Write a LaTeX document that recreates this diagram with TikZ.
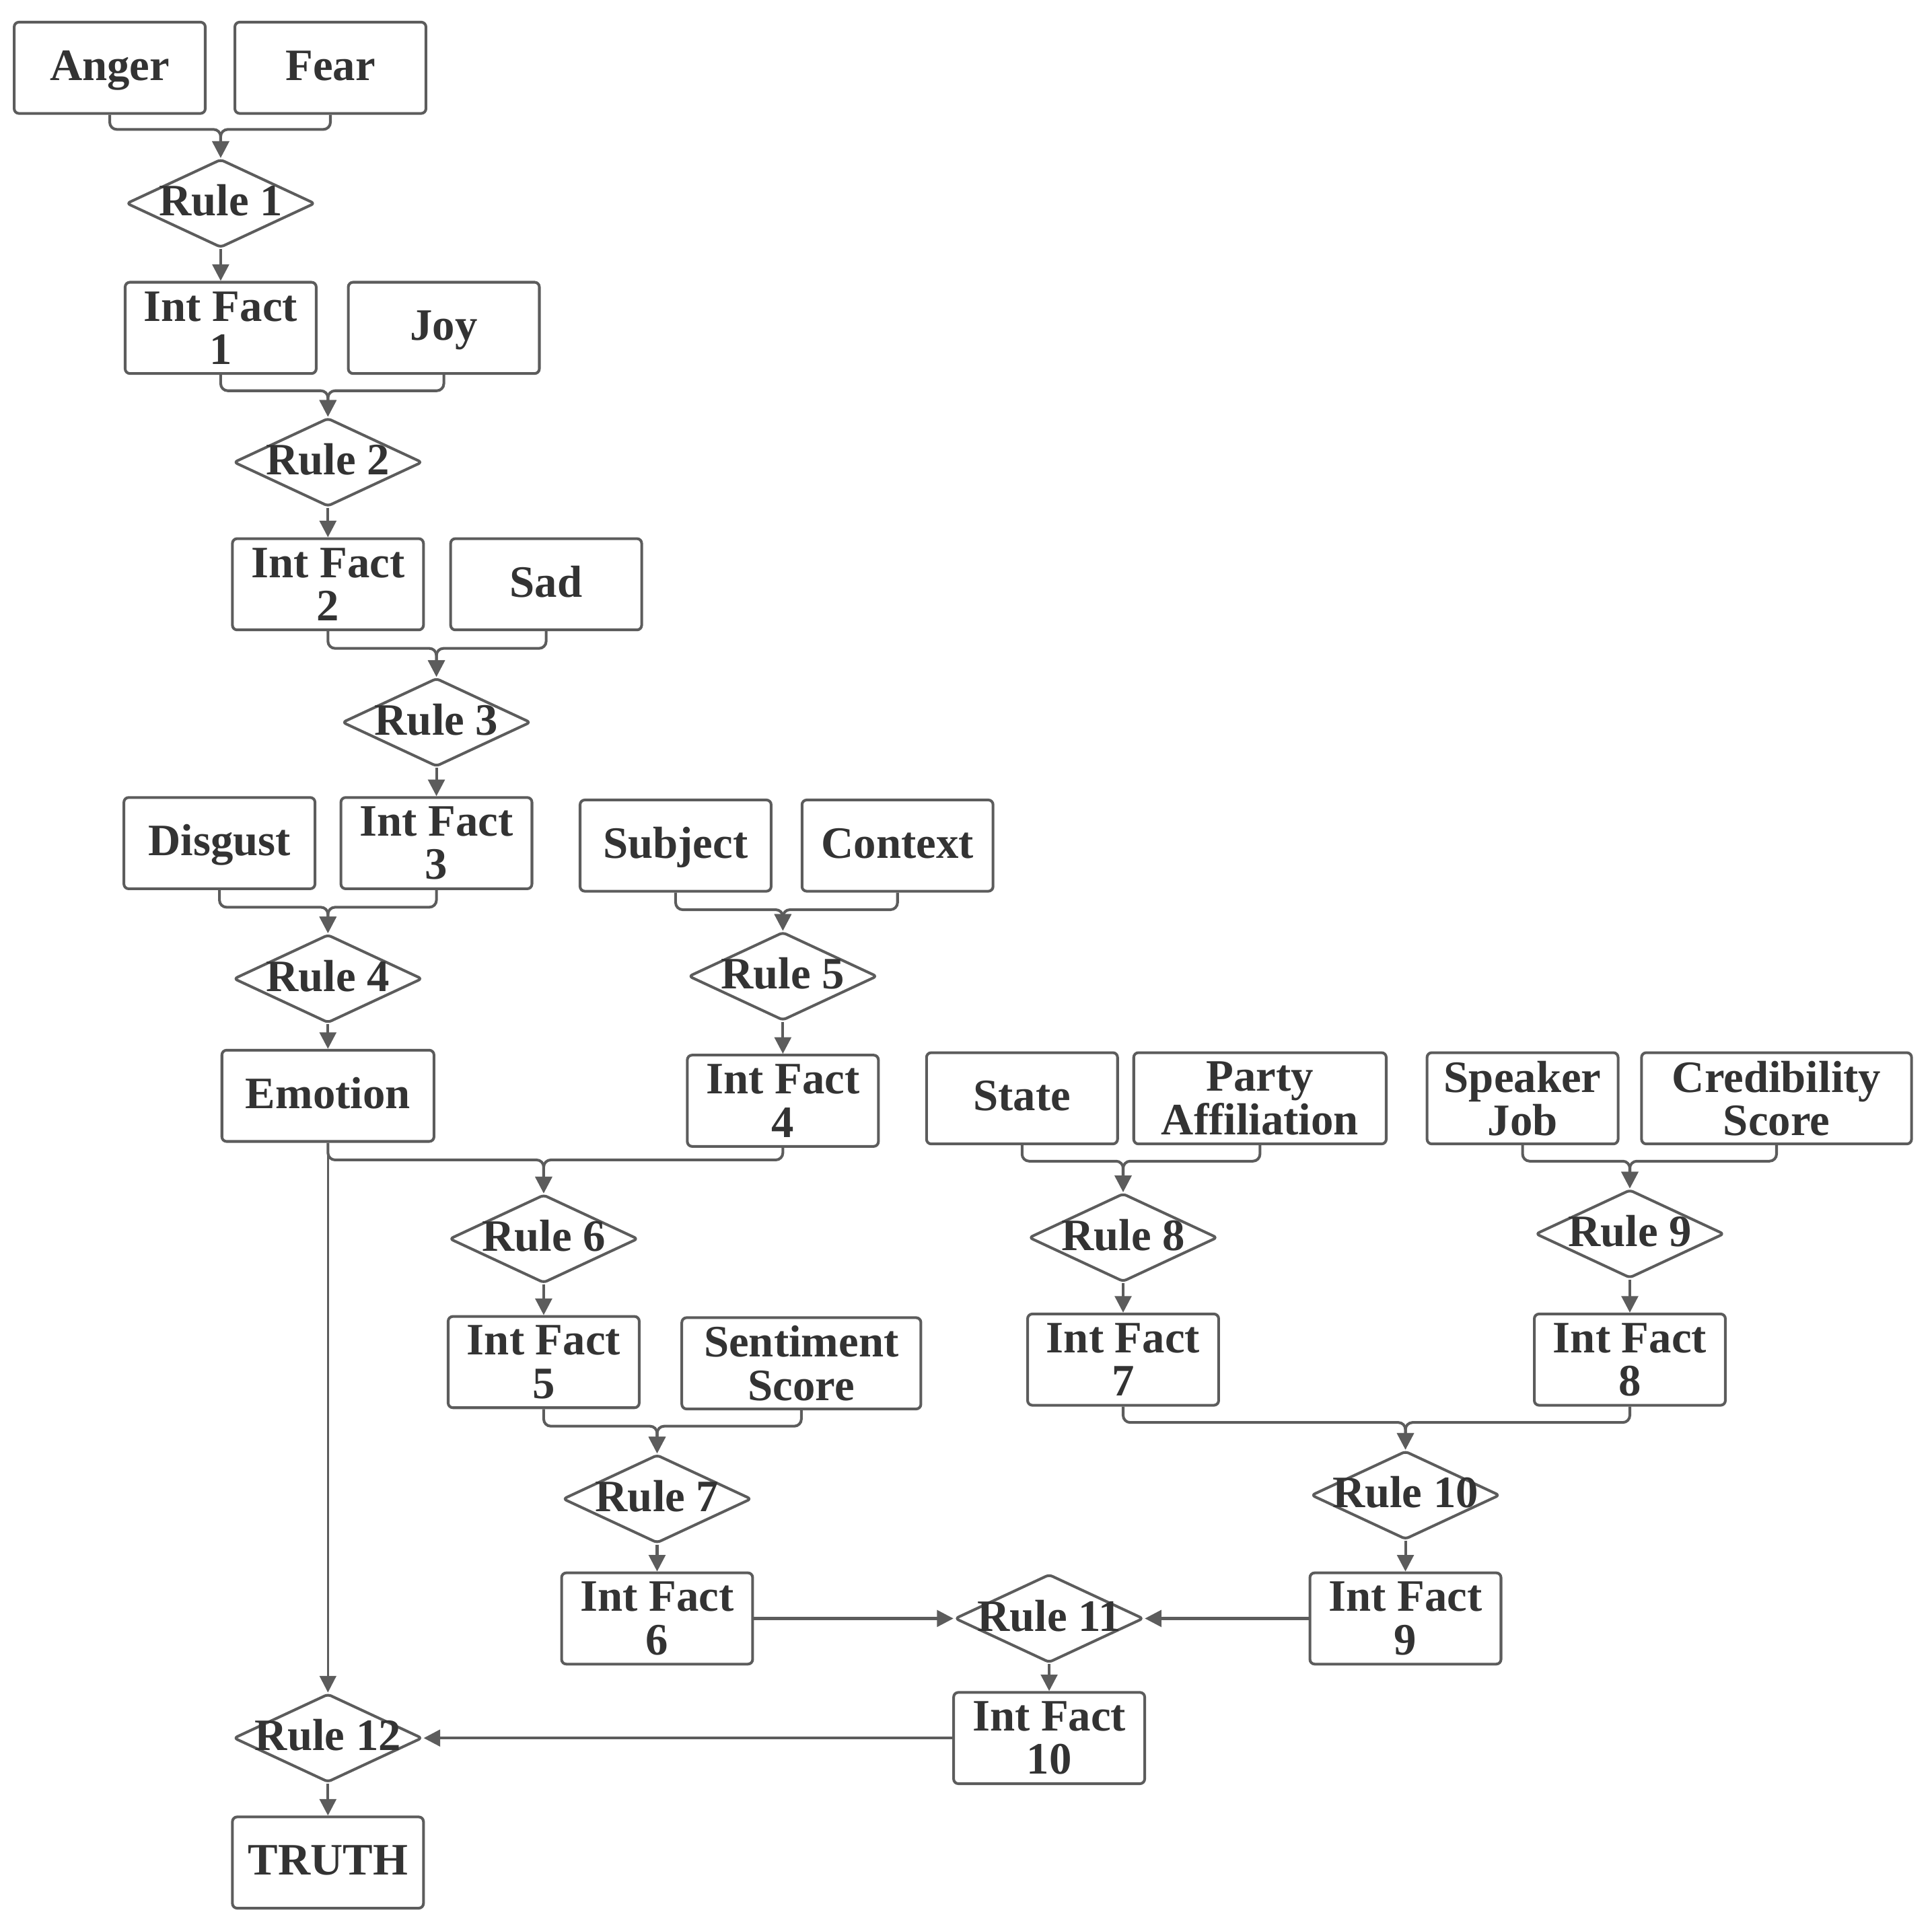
\documentclass[tikz,border=0pt]{standalone}
\usepackage{fontspec}
\setmainfont{Liberation Serif}
\usetikzlibrary{shapes.geometric,arrows.meta}
\definecolor{linec}{HTML}{5C5C5C}
\definecolor{textc}{HTML}{333333}
\tikzset{
  fact/.style={draw=linec, line width=1.15pt, rounded corners=2pt, minimum width=80.8pt, minimum height=38.6pt,
    inner sep=0pt, align=center, text=textc, font=\fontsize{19}{18.3}\selectfont\bfseries},
  one/.style={text height=15.1pt, text depth=4.5pt},
  rulebox/.style={draw=linec, line width=1.15pt, rounded corners=1.5pt, shape=diamond, minimum width=79.8pt,
    minimum height=37.4pt, inner sep=0pt},
  rulelabel/.style={text=textc, inner sep=0pt, text height=15.1pt, text depth=4.5pt,
    font=\fontsize{19}{18.3}\selectfont\bfseries},
  conn/.style={draw=linec, line width=1.15pt, rounded corners=3pt, -{Triangle[length=7pt,width=7pt]}},
  thinconn/.style={draw=linec, line width=0.8pt, -{Triangle[length=7pt,width=7pt]}},
}
\newcommand{\rulenode}[3]{\node[rulebox, label={[rulelabel]center:#3}] (#1) at (#2) {};}
\begin{document}
\begin{tikzpicture}[x=0.01832cm, y=-0.01832cm]
\useasboundingbox (0,0) rectangle (1567.1,1564.4);
% boxes
\node[fact, one] (anger) at (89,55) {Anger};
\node[fact, one] (fear) at (268,55) {Fear};
\rulenode{r1}{179,165}{Rule 1}
\node[fact] (if1) at (179,266) {Int Fact\\1};
\node[fact, one] (joy) at (360,266) {Joy};
\rulenode{r2}{266,375}{Rule 2}
\node[fact] (if2) at (266,474) {Int Fact\\2};
\node[fact, one] (sad) at (443,474) {Sad};
\rulenode{r3}{354,586}{Rule 3}
\node[fact, one] (disgust) at (178,684) {Disgust};
\node[fact] (if3) at (354,684) {Int Fact\\3};
\rulenode{r4}{266,794}{Rule 4}
\node[fact, one, minimum width=89.7pt] (emotion) at (266,889) {Emotion};
\node[fact, one] (subject) at (548,686) {Subject};
\node[fact, one] (context) at (728,686) {Context};
\rulenode{r5}{635,792}{Rule 5}
\node[fact] (if4) at (635,893) {Int Fact\\4};
\rulenode{r6}{441,1005}{Rule 6}
\node[fact] (if5) at (441,1105) {Int Fact\\5};
\node[fact, minimum width=101.1pt] (sentiment) at (650,1106) {Sentiment\\Score};
\rulenode{r7}{533,1216}{Rule 7}
\node[fact] (if6) at (533,1313) {Int Fact\\6};
\node[fact, one] (state) at (829,891) {State};
\node[fact, minimum width=106.8pt] (party) at (1022,891) {Party\\Affiliation};
\node[fact] (speaker) at (1235,891) {Speaker\\Job};
\node[fact, minimum width=114.2pt] (cred) at (1441,891) {Credibility\\Score};
\rulenode{r8}{911,1004}{Rule 8}
\rulenode{r9}{1322,1001}{Rule 9}
\node[fact] (if7) at (911,1103) {Int Fact\\7};
\node[fact] (if8) at (1322,1103) {Int Fact\\8};
\rulenode{r10}{1140,1213}{Rule 10}
\node[fact] (if9) at (1140,1313) {Int Fact\\9};
\rulenode{r11}{851,1313}{Rule 11}
\node[fact] (if10) at (851,1410) {Int Fact\\10};
\rulenode{r12}{266,1410}{Rule 12}
\node[fact, one] (truth) at (266,1511) {TRUTH};
% merge points
\coordinate (m1) at (179,105);
\coordinate (m2) at (266,317);
\coordinate (m3) at (354,526);
\coordinate (m4) at (266,736);
\coordinate (m5) at (635,738);
\coordinate (m6) at (441,941);
\coordinate (m7) at (533,1157);
\coordinate (m8) at (911,942);
\coordinate (m9) at (1322,942);
\coordinate (m10) at (1140,1154);
% connectors
\draw[conn] (anger.south) |- (m1) -- (r1.north);
\draw[conn] (fear.south) |- (m1) -- (r1.north);
\draw[conn] (r1.south) -- (if1.north);
\draw[conn] (if1.south) |- (m2) -- (r2.north);
\draw[conn] (joy.south) |- (m2) -- (r2.north);
\draw[conn] (r2.south) -- (if2.north);
\draw[conn] (if2.south) |- (m3) -- (r3.north);
\draw[conn] (sad.south) |- (m3) -- (r3.north);
\draw[conn] (r3.south) -- (if3.north);
\draw[conn] (disgust.south) |- (m4) -- (r4.north);
\draw[conn] (if3.south) |- (m4) -- (r4.north);
\draw[conn] (r4.south) -- (emotion.north);
\draw[conn] (subject.south) |- (m5) -- (r5.north);
\draw[conn] (context.south) |- (m5) -- (r5.north);
\draw[conn] (r5.south) -- (if4.north);
\draw[conn] (emotion.south) |- (m6) -- (r6.north);
\draw[conn] (if4.south) |- (m6) -- (r6.north);
\draw[conn] (r6.south) -- (if5.north);
\draw[conn] (if5.south) |- (m7) -- (r7.north);
\draw[conn] (sentiment.south) |- (m7) -- (r7.north);
\draw[conn] (r7.south) -- (if6.north);
\draw[conn] (state.south) |- (m8) -- (r8.north);
\draw[conn] (party.south) |- (m8) -- (r8.north);
\draw[conn] (r8.south) -- (if7.north);
\draw[conn] (speaker.south) |- (m9) -- (r9.north);
\draw[conn] (cred.south) |- (m9) -- (r9.north);
\draw[conn] (r9.south) -- (if8.north);
\draw[conn] (if7.south) |- (m10) -- (r10.north);
\draw[conn] (if8.south) |- (m10) -- (r10.north);
\draw[conn] (r10.south) -- (if9.north);
\draw[conn] (if6.east) -- (r11.west);
\draw[conn] (if9.west) -- (r11.east);
\draw[conn] (r11.south) -- (if10.north);
\draw[thinconn] (emotion.south) -- (r12.north);
\draw[conn] (if10.west) -- (r12.east);
\draw[conn] (r12.south) -- (truth.north);
\end{tikzpicture}
\end{document}
